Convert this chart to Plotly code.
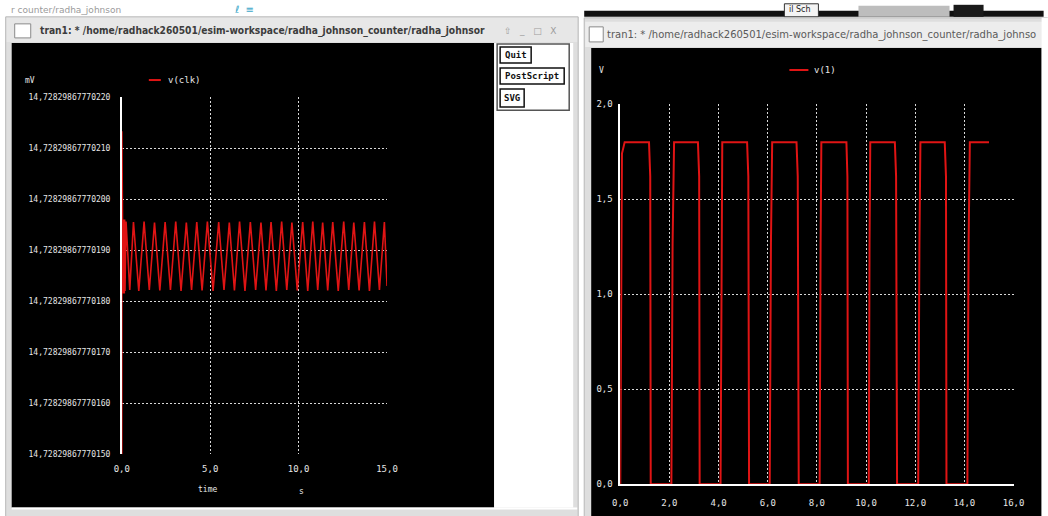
import plotly.graph_objects as go

# ------------------------------------------------------------
# data read off the two ngspice plot windows
# ------------------------------------------------------------

# left window: v(clk), offsets from 14.72829867770000 mV in units of 1e-14 mV
CLK_T = [0.0, 0.004, 0.02, 0.04, 0.06, 0.08, 0.10, 0.12, 0.14, 0.16, 0.18, 0.24,
         0.45, 0.66, 0.96, 1.26, 1.555, 1.85, 2.15, 2.45, 2.75, 3.05, 3.35, 3.65,
         3.945, 4.24, 4.54, 4.84, 5.16, 5.48, 5.78, 6.08, 6.37, 6.66, 6.965, 7.27,
         7.57, 7.87, 8.155, 8.44, 8.74, 9.04, 9.33, 9.62, 9.925, 10.23, 10.515,
         10.80, 11.08, 11.36, 11.645, 11.93, 12.24, 12.55, 12.835, 13.12, 13.42,
         13.72, 14.005, 14.29, 14.57, 14.85, 15.0]
CLK_V = [150.0, 213.3, 181.5, 196.0, 181.5, 196.0, 181.5, 196.0, 181.5, 196.0, 182.0, 195.6,
         182.2, 195.5, 182.0, 195.6, 182.2, 195.4, 182.1, 195.5, 182.2, 195.6, 182.0, 195.4,
         182.2, 195.5, 182.1, 195.6, 182.0, 195.5, 182.2, 195.4, 182.1, 195.6, 182.0, 195.5,
         182.2, 195.4, 182.1, 195.5, 182.0, 195.6, 182.2, 195.4, 182.1, 195.5, 182.0,
         195.6, 182.2, 195.4, 182.1, 195.5, 182.0, 195.6, 182.2, 195.4, 182.1,
         195.5, 182.0, 195.6, 182.2, 195.5, 183.0]
CLK_YTICKS = [150, 160, 170, 180, 190, 200, 210, 220]
CLK_YLABELS = ["14,72829867770150", "14,72829867770160", "14,72829867770170",
               "14,72829867770180", "14,72829867770190", "14,72829867770200",
               "14,72829867770210", "14,72829867770220"]
CLK_XTICKS = [0, 5, 10, 15]
CLK_XLABELS = ["0,0", "5,0", "10,0", "15,0"]

# right window: v(1) in V
V1_T = [0.00, 0.07, 0.18, 1.17, 1.22, 1.24, 2.08, 2.13, 2.19, 3.16, 3.21, 3.23,
        4.08, 4.12, 4.15, 5.16, 5.21, 5.24, 6.08, 6.13, 6.18, 7.17, 7.22, 7.26,
        8.11, 8.15, 8.18, 9.20, 9.24, 9.26, 10.11, 10.14, 10.17, 11.17, 11.22, 11.26,
        12.12, 12.17, 12.21, 13.20, 13.25, 13.27, 14.12, 14.17, 14.22, 15.0]
V1_V = [0.0, 1.74, 1.8, 1.8, 1.62, 0.0, 0.0, 1.27, 1.8, 1.8, 1.62, 0.0,
        0.0, 1.27, 1.8, 1.8, 1.62, 0.0, 0.0, 1.27, 1.8, 1.8, 1.62, 0.0,
        0.0, 1.27, 1.8, 1.8, 1.62, 0.0, 0.0, 1.27, 1.8, 1.8, 1.62, 0.0,
        0.0, 1.27, 1.8, 1.8, 1.62, 0.0, 0.0, 1.27, 1.8, 1.8]
V1_YTICKS = [0.0, 0.5, 1.0, 1.5, 2.0]
V1_YLABELS = ["0,0", "0,5", "1,0", "1,5", "2,0"]
V1_XTICKS = [0, 2, 4, 6, 8, 10, 12, 14, 16]
V1_XLABELS = ["0,0", "2,0", "4,0", "6,0", "8,0", "10,0", "12,0", "14,0", "16,0"]

TITLE_LEFT = "tran1: * /home/radhack260501/esim-workspace/radha_johnson_counter/radha_johnsor"
TITLE_RIGHT = "tran1: * /home/radhack260501/esim-workspace/radha_johnson_counter/radha_johnso"

W, H = 1048, 516
MONO = "DejaVu Sans Mono"
TXT = "#e6e6e6"
GRID = "#d8d8d8"
GRID_DASH = "2px,2px"
RED = "#e01414"

# the photographed page comes out slightly shrunk and offset; positions below are
# given in screenshot pixels and mapped back to paper fractions
OFF_X, OFF_Y = 7.3, 5.2
SC_X, SC_Y = 0.981, 0.9775


def X(p):
    return (p - OFF_X) / (SC_X * W)


def Y(p):
    return 1 - (p - OFF_Y) / (SC_Y * H)


shapes = []
annotations = []


def rect(x0, y0, x1, y1, fill=None, line=None, lw=1, layer="below"):
    shapes.append(dict(type="rect", xref="paper", yref="paper",
                       x0=X(x0), x1=X(x1), y0=Y(y1), y1=Y(y0),
                       fillcolor=fill or "rgba(0,0,0,0)",
                       line=dict(color=line or "rgba(0,0,0,0)", width=lw if line else 0),
                       layer=layer))


def label(x, y, text, size=8, color=TXT, anchor="left", family=MONO, bold=False):
    if bold:
        text = "<b>" + text + "</b>"
    annotations.append(dict(x=X(x), y=Y(y), xref="paper", yref="paper", text=text,
                            showarrow=False, xanchor=anchor, yanchor="middle",
                            font=dict(size=size, color=color, family=family)))


# ------------------------------------------------------------
# window chrome
# ------------------------------------------------------------
# strip of other windows along the top
label(8, 10, "r counter/radha_johnson", 9, "#9a9a9a", family="DejaVu Sans")
label(232, 10, "ℓ  ≡", 10, "#3aa7c9", family="DejaVu Sans")
rect(583, 11, 1042, 17, fill="#111111")
rect(783, 4, 817, 17, fill="#f4f4f4", line="#333333")
label(786, 10, "il Sch", 8, "#222222", family="DejaVu Sans")
rect(857, 6, 948, 17, fill="#bdbdbd")
rect(952, 5, 982, 17, fill="#1a1a1a")

# left window
rect(5, 17, 577, 520, fill="#dedede", line="#b8b8b8")
rect(6, 18, 576, 42, fill="#e7e7e7")
rect(14, 24, 30, 38, fill="#ffffff", line="#8a8a8a")
label(37, 31, TITLE_LEFT, 10.2, "#3c3c3c", family="DejaVu Sans Condensed", bold=True)
label(529, 31, "⇧   _   □   X", 9, "#9c9c9c", anchor="center", family="DejaVu Sans")
rect(11, 43, 493, 506, fill="#000000")
rect(493, 43, 572, 506, fill="#ffffff")
rect(496, 44, 568, 110, line="#555555", lw=1.5)
rect(499, 47, 530, 63, fill="#ffffff", line="#111111", lw=1.5, layer="above")
rect(499, 68, 563, 84, fill="#ffffff", line="#111111", lw=1.5, layer="above")
rect(499, 89, 523, 107, fill="#ffffff", line="#111111", lw=1.5, layer="above")
label(514.5, 55, "Quit", 9, "#111111", anchor="center", bold=True)
label(531, 76, "PostScript", 9, "#111111", anchor="center", bold=True)
label(511, 98, "SVG", 9, "#111111", anchor="center", bold=True)
rect(11, 506, 576, 508, fill="#ffffff")

# right window
rect(583, 18, 1046, 520, fill="#dedede", line="#b8b8b8")
rect(584, 22, 1045, 47, fill="#ededed")
rect(588, 27, 602, 42, fill="#ffffff", line="#8a8a8a")
label(604, 35, TITLE_RIGHT, 11.1, "#5a5a5a", family="DejaVu Sans Condensed")
rect(590, 48, 1040, 520, fill="#000000")
rect(1040, 18, 1060, 520, fill="#ffffff")

# ------------------------------------------------------------
# traces
# ------------------------------------------------------------
fig = go.Figure()
fig.add_trace(go.Scatter(x=CLK_T, y=CLK_V, mode="lines", name="v(clk)",
                         line=dict(color=RED, width=1.6), xaxis="x", yaxis="y",
                         showlegend=False, hoverinfo="skip"))
fig.add_trace(go.Scatter(x=V1_T, y=V1_V, mode="lines", name="v(1)",
                         line=dict(color=RED, width=2), xaxis="x2", yaxis="y2",
                         showlegend=False, hoverinfo="skip"))

# ngspice-style legends and unit labels
label(22, 80, "mV", 8)
shapes.append(dict(type="line", xref="paper", yref="paper", x0=X(148), x1=X(160),
                   y0=Y(80), y1=Y(80), line=dict(color=RED, width=2), layer="above"))
label(165, 80, fig.data[0].name, 9)
label(195, 488, "time", 8)
label(296, 490, "s", 8)

label(596, 70, "V", 8)
shapes.append(dict(type="line", xref="paper", yref="paper", x0=X(788), x1=X(807),
                   y0=Y(70), y1=Y(70), line=dict(color=RED, width=2), layer="above"))
label(811, 70, fig.data[1].name, 9)

axis_common = dict(showgrid=True, gridcolor=GRID, griddash=GRID_DASH, gridwidth=1,
                   zeroline=False, ticks="outside", tickcolor="rgba(0,0,0,0)",
                   tickmode="array", fixedrange=True)

fig.update_layout(
    autosize=True,
    margin=dict(l=0, r=0, t=0, b=0),
    paper_bgcolor="#ffffff",
    plot_bgcolor="#000000",
    showlegend=False,
    xaxis=dict(domain=[X(121), X(386)], range=[0, 15], anchor="y",
               tickvals=CLK_XTICKS, ticktext=CLK_XLABELS, ticklen=6,
               tickfont=dict(family=MONO, size=9, color=TXT),
               showline=False, **axis_common),
    yaxis=dict(domain=[Y(453), Y(97)], range=[150, 220], anchor="x",
               tickvals=CLK_YTICKS, ticktext=CLK_YLABELS, ticklen=8,
               tickfont=dict(family=MONO, size=8, color=TXT),
               showline=True, linecolor="#ffffff", linewidth=1.5, **axis_common),
    xaxis2=dict(domain=[X(619), X(1012)], range=[0, 16], anchor="y2",
                tickvals=V1_XTICKS, ticktext=V1_XLABELS, ticklen=9,
                tickfont=dict(family=MONO, size=9, color=TXT),
                showline=True, linecolor="#ffffff", linewidth=1.5, **axis_common),
    yaxis2=dict(domain=[Y(483), Y(104)], range=[0, 2], anchor="x2",
                tickvals=V1_YTICKS, ticktext=V1_YLABELS, ticklen=4,
                tickfont=dict(family=MONO, size=9, color=TXT),
                showline=True, linecolor="#ffffff", linewidth=1.5, **axis_common),
    shapes=shapes,
    annotations=annotations,
)

# the figure fills the browser window (no page margin, no scrollbars)
fig.write_html(
    "out.html",
    config={"displayModeBar": False, "responsive": True},
    default_width="100vw",
    default_height="100vh",
    post_script=("document.documentElement.style.overflow='hidden';"
                 "document.body.style.margin='0px';"
                 "document.body.style.overflow='hidden';"
                 "Plotly.Plots.resize(document.getElementById('{plot_id}'));"),
)
